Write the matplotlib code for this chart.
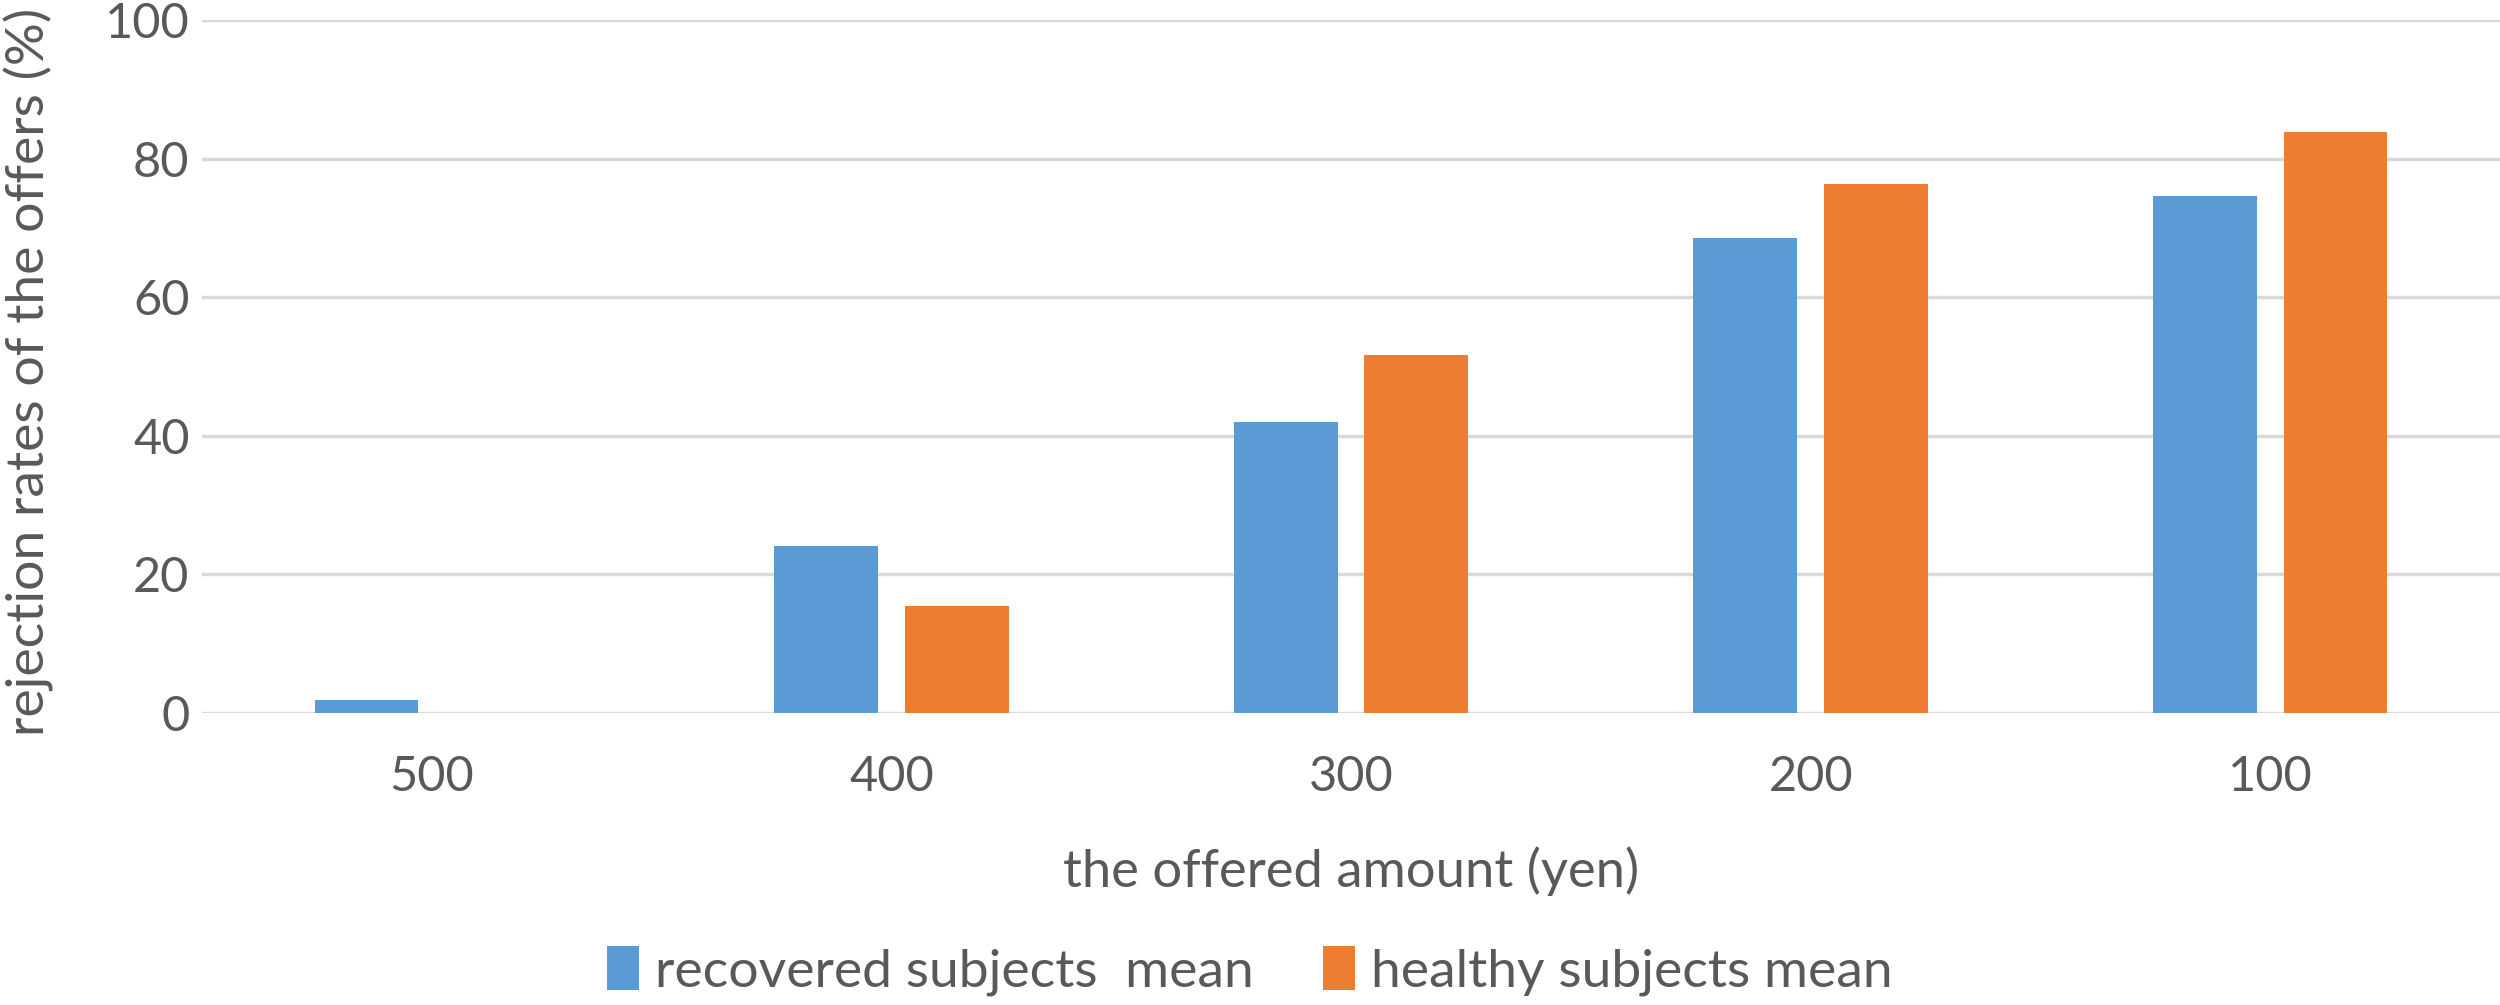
import matplotlib
matplotlib.use("Agg")
import matplotlib.pyplot as plt
import numpy as np

# values
amounts = ["500", "400", "300", "200", "100"]
recovered = [1.9, 24.1, 42.0, 68.5, 74.6]
healthy = [0.0, 15.5, 51.7, 76.4, 83.9]
y_ticks = [0, 20, 40, 60, 80, 100]

blue = "#5b9bd5"
orange = "#ed7d31"
text_col = "#595959"
grid_col = "#d9d9d9"

plt.rcParams["font.family"] = ["Lato", "DejaVu Sans"]

fig = plt.figure(figsize=(25, 10.05), dpi=100)
ax = fig.add_axes([0.0808, 0.2905, 0.9192, 0.6895])

x = np.arange(len(amounts))
w = 0.226
ax.bar(x - 0.142, recovered, w, color=blue, label="recovered subjects  mean", zorder=3)
ax.bar(x + 0.142, healthy, w, color=orange, label="healthy subjects mean", zorder=3)

ax.set_xlim(-0.5, len(amounts) - 0.5)
ax.set_ylim(0, 100)
ax.set_yticks(y_ticks)
ax.set_xticks(x)
ax.set_xticklabels(amounts)
ax.yaxis.grid(True, color=grid_col, lw=2.5, zorder=0)
ax.tick_params(length=0, labelsize=35, labelcolor=text_col)
ax.tick_params(axis="y", pad=9)
ax.tick_params(axis="x", pad=30)
for s in ax.spines.values():
    s.set_visible(False)

ax.set_xlabel("the offered amount (yen)", fontsize=37.8, color=text_col, labelpad=34)
# the y label in the reference is a condensed face
ax.set_ylabel("rejection rates of the offers (%)", fontsize=38.5, color=text_col,
              family=["Liberation Sans Narrow", "Lato"])
ax.yaxis.set_label_coords(-0.0645, 0.492)

leg = fig.legend(loc="center", bbox_to_anchor=(0.5, 0.034), ncol=2, frameon=False,
                 fontsize=38.5, labelcolor=text_col, handlelength=0.6, handleheight=0.9,
                 handletextpad=0.3, columnspacing=1.3)

fig.savefig("out.png", dpi=100)
